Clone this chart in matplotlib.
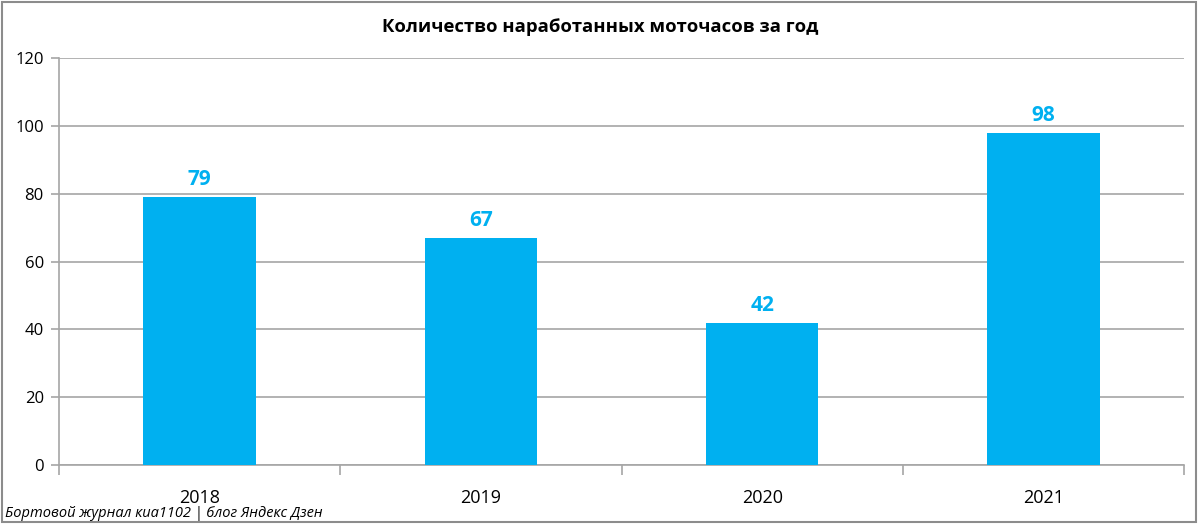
import matplotlib.pyplot as plt
from matplotlib.patches import Rectangle

years = ["2018", "2019", "2020", "2021"]
hours = [79, 67, 42, 98]
y_ticks = [0, 20, 40, 60, 80, 100, 120]

plt.rcParams['font.family'] = ['Open Sans', 'DejaVu Sans']

bar_color = "#00b0f0"
grid_color = "#a6a6a6"

fig = plt.figure(figsize=(12, 5.25), dpi=100)
ax = fig.add_axes([0.0492, 0.1143, 0.9375, 0.7752])

x = [i + 0.5 for i in range(len(years))]
ax.bar(x, hours, width=0.4, color=bar_color, zorder=3)
for xi, v in zip(x, hours):
    ax.annotate(str(v), (xi, v), xytext=(0, 5), textcoords="offset points",
                ha="center", va="bottom", color=bar_color,
                fontsize=15, fontweight="bold")

ax.set_xlim(0, len(years))
ax.set_ylim(0, 120)
ax.set_yticks(y_ticks)
ax.set_yticklabels([str(t) for t in y_ticks], fontsize=12)
ax.set_xticks(range(len(years) + 1))
ax.set_xticklabels([])
ax.set_xticks(x, minor=True)
ax.set_xticklabels(years, minor=True, fontsize=13)
ax.tick_params(axis="x", which="minor", length=0, pad=17)
ax.tick_params(axis="x", which="major", length=7, color=grid_color, width=1.2)
ax.tick_params(axis="y", length=6, color=grid_color, width=1.2, pad=5)

ax.yaxis.grid(True, color=grid_color, linewidth=1.2, zorder=0)
for s in ["top", "right"]:
    ax.spines[s].set_visible(False)
for s in ["left", "bottom"]:
    ax.spines[s].set_color(grid_color)
    ax.spines[s].set_linewidth(1.2)

fig.text(0.5, 0.948, "Количество наработанных моточасов за год",
         ha="center", va="center", fontsize=13.3, fontweight="bold")
fig.text(0.004, 0.021, "Бортовой журнал киа1102 | блог Яндекс Дзен",
         ha="left", va="center", fontsize=10.5, style="italic")

fig.patches.append(Rectangle((0.002, 0.006), 0.995, 0.99, transform=fig.transFigure,
                             fill=False, edgecolor="#8c8c8c", linewidth=1.5))

fig.savefig("out.png", dpi=100)
